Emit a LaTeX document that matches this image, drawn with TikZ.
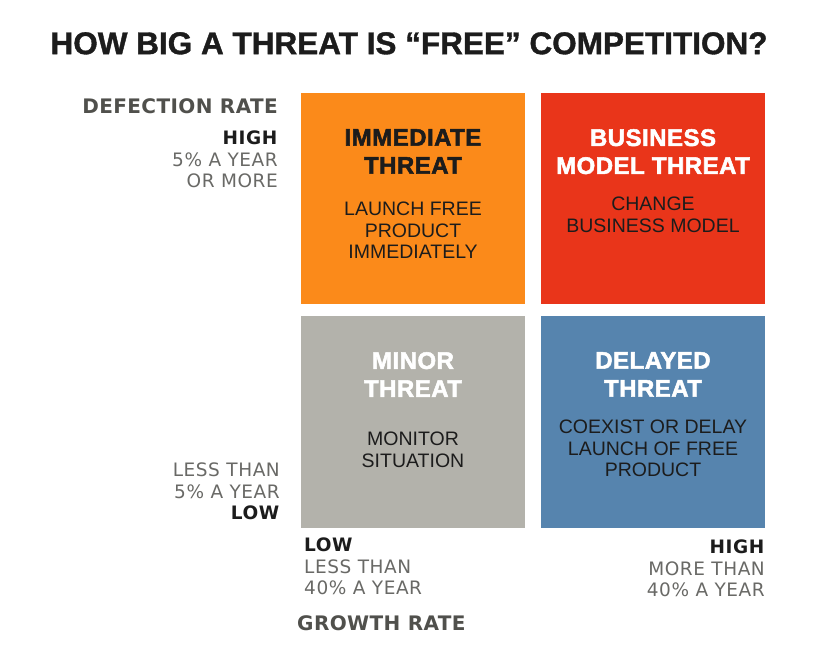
\documentclass[tikz,border=0pt]{standalone}
\usepackage{fontspec}
\setmainfont{Liberation Sans}
\newfontfamily\heavyfont{Liberation Sans}[BoldFeatures={FakeBold=2.2,LetterSpace=2}]
\newfontfamily\titlefont{Liberation Sans}[BoldFeatures={FakeBold=1.2}]
\newfontfamily\labfont{DejaVu Sans}[LetterSpace=3]
\newfontfamily\axisfont{DejaVu Sans}[LetterSpace=2]
\definecolor{cOrange}{RGB}{251,138,26}
\definecolor{cRed}{RGB}{233,53,26}
\definecolor{cGray}{RGB}{179,178,171}
\definecolor{cBlue}{RGB}{86,132,174}
\definecolor{labgray}{RGB}{105,105,102}
\definecolor{axisgray}{RGB}{80,80,76}
\definecolor{ink}{RGB}{28,28,28}
\tikzset{
  head/.style={inner sep=0, anchor=north, align=center, font=\heavyfont\bfseries\fontsize{24}{28}\selectfont},
  sub/.style={inner sep=0, anchor=north, align=center, text=ink, font=\fontsize{19.5}{21.5}\selectfont},
  lab/.style={inner sep=0, anchor=north east, align=right, text=labgray, font=\labfont\fontsize{18.5}{21.5}\selectfont},
  labl/.style={inner sep=0, anchor=north west, align=left, text=labgray, font=\labfont\fontsize{18.5}{21.5}\selectfont},
  axis/.style={inner sep=0, text=axisgray, font=\axisfont\bfseries\fontsize{20}{22}\selectfont},
}
\begin{document}
\begin{tikzpicture}[x=1pt,y=-1pt]
\useasboundingbox (0,0) rectangle (827,652);
% quadrants
\fill[cOrange] (301,93) rectangle (525,304) coordinate (qo);
\fill[cRed] (541,93) rectangle (765,304) coordinate (qr);
\fill[cGray] (301,316) rectangle (525,528) coordinate (qg);
\fill[cBlue] (541,316) rectangle (765,528) coordinate (qb);
% title
\node[inner sep=0, anchor=north, text=ink, font=\titlefont\bfseries\fontsize{31.5}{34}\selectfont] (title) at (409,32) {HOW BIG A THREAT IS “FREE” COMPETITION?};
% headings
\node[head, text=ink] (h1) at (413,129) {IMMEDIATE\\THREAT};
\node[head, text=white] (h2) at (653,129) {BUSINESS\\MODEL THREAT};
\node[head, text=white] (h3) at (413,352) {MINOR\\THREAT};
\node[head, text=white] (h4) at (653,352) {DELAYED\\THREAT};
% sub texts
\node[sub] (s1) at (413,202) {LAUNCH FREE\\PRODUCT\\IMMEDIATELY};
\node[sub] (s2) at (653,197) {CHANGE\\BUSINESS MODEL};
\node[sub] (s3) at (413,432) {MONITOR\\SITUATION};
\node[sub] (s4) at (653,420) {COEXIST OR DELAY\\LAUNCH OF FREE\\PRODUCT};
% axis labels
\node[axis, anchor=north east] (defr) at (278,98) {DEFECTION RATE};
\node[axis, anchor=north west] (grow) at (297,615) {GROWTH RATE};
\node[lab] (yhigh) at (278,131) {\textcolor{ink}{\textbf{HIGH}}\\5\% A YEAR\\OR MORE};
\node[lab] (ylow) at (280,463) {LESS THAN\\5\% A YEAR\\\textcolor{ink}{\textbf{LOW}}};
\node[labl] (xlow) at (304,538) {\textcolor{ink}{\textbf{LOW}}\\LESS THAN\\40\% A YEAR};
\node[lab] (xhigh) at (765,540) {\textcolor{ink}{\textbf{HIGH}}\\MORE THAN\\40\% A YEAR};
\end{tikzpicture}
\end{document}
